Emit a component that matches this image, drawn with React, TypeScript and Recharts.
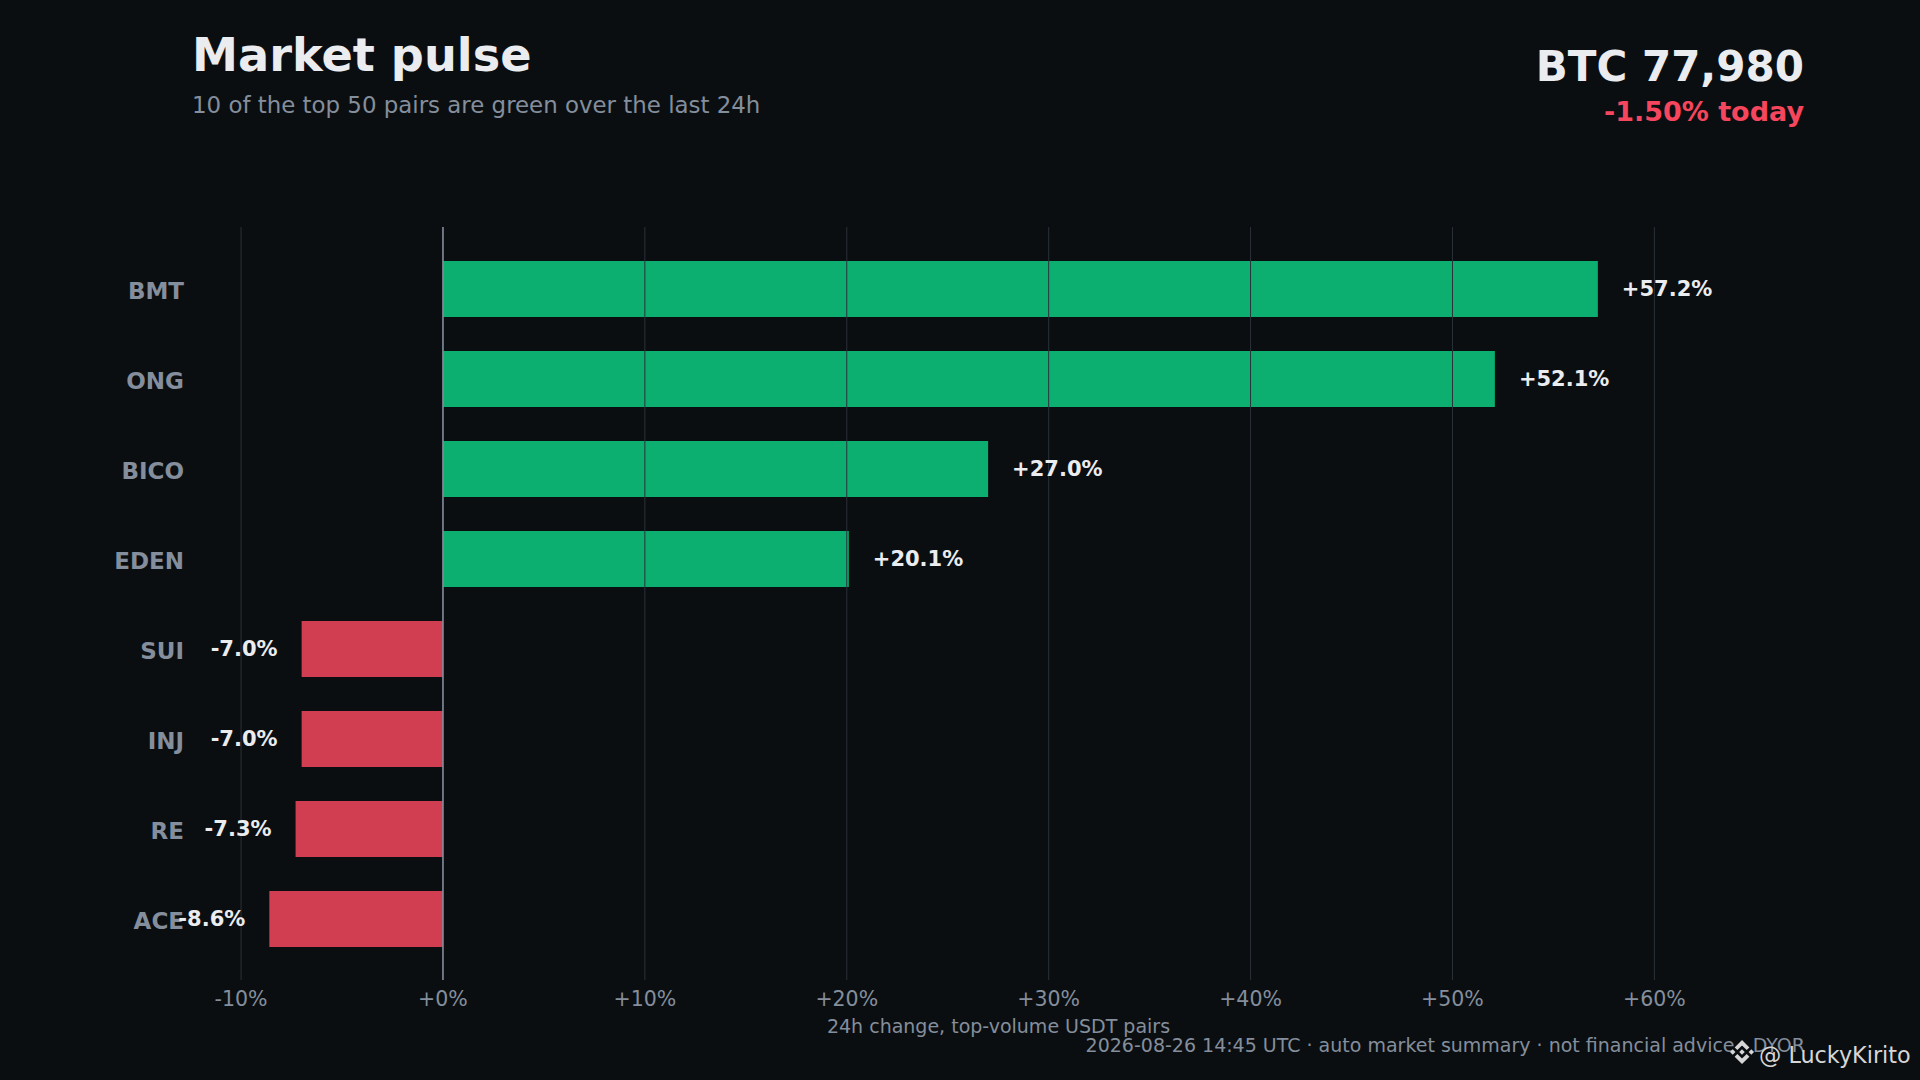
import { BarChart, Bar, Cell, XAxis, YAxis, ReferenceLine, LabelList } from 'recharts';

const symbols = ['BMT', 'ONG', 'BICO', 'EDEN', 'SUI', 'INJ', 'RE', 'ACE'];
const changes = [57.2, 52.1, 27.0, 20.1, -7.0, -7.0, -7.3, -8.6];
const xTicks = [-10, 0, 10, 20, 30, 40, 50, 60];

const GREEN = '#0ecb81';
const RED = '#f6465d';
const BG = '#0b0e11';
const TEXT = '#eaecef';
const MUTED = '#848e9c';
const FONT = '"DejaVu Sans", sans-serif';

const rows = symbols.map((symbol, i) => ({ symbol, change: changes[i] }));

const pct = (v: number) => `${v >= 0 ? '+' : ''}${v}%`;
const pct1 = (v: number) => `${v >= 0 ? '+' : ''}${v.toFixed(1)}%`;

function ValueLabel(props: any) {
    const { x, y, width, height, value } = props;
    const left = Math.min(x, x + width);
    const right = Math.max(x, x + width);
    const pos = value >= 0;
    return (
        <text
            x={pos ? right + 24 : left - 24}
            y={y + height / 2 + 6.5}
            textAnchor={pos ? 'start' : 'end'}
            fill={TEXT}
            fontSize={21}
            fontWeight="bold"
            fontFamily={FONT}
        >
            {pct1(value)}
        </text>
    );
}

function SymbolTick(props: any) {
    const { x, y, payload } = props;
    return (
        <text x={x} y={y + 9.5} textAnchor="end" fill={MUTED} fontSize={23} fontWeight="bold" fontFamily={FONT}>
            {payload.value}
        </text>
    );
}

export default function App() {
    return (
        <div style={{ position: 'absolute', left: 0, top: 0, width: 1920, height: 1080, background: BG, overflow: 'hidden' }}>
            <BarChart
                width={1920}
                height={1080}
                data={rows}
                layout="vertical"
                margin={{ top: 227, right: 115, bottom: 60, left: 92 }}
            >
                <XAxis
                    type="number"
                    domain={[-12.43, 67.46]}
                    allowDataOverflow
                    ticks={xTicks}
                    tickFormatter={pct}
                    axisLine={false}
                    tickLine={false}
                    tickSize={0}
                    tickMargin={11}
                    height={40}
                    tick={{ fill: MUTED, fontSize: 20.5, fontFamily: FONT }}
                />
                <YAxis
                    type="category"
                    dataKey="symbol"
                    width={100}
                    axisLine={false}
                    tickLine={false}
                    tickSize={0}
                    tickMargin={8}
                    padding={{ top: 17, bottom: 16 }}
                    tick={<SymbolTick />}
                    interval={0}
                />
                <Bar dataKey="change" barSize={56} isAnimationActive={false}>
                    {rows.map((r, i) => (
                        <Cell key={`cell-${i}`} fill={r.change >= 0 ? GREEN : RED} fillOpacity={0.85} />
                    ))}
                    <LabelList dataKey="change" content={<ValueLabel />} />
                </Bar>
                {xTicks.filter((t) => t !== 0).map((t) => (
                    <ReferenceLine key={`grid-${t}`} x={t} stroke="#2b3139" strokeWidth={1} zIndex={400} />
                ))}
                <ReferenceLine x={0} stroke={MUTED} strokeWidth={1.6} zIndex={400} />
            </BarChart>

            <svg width={1920} height={1080} style={{ position: 'absolute', left: 0, top: 0, pointerEvents: 'none' }}>
                <text x={192} y={71} fill={TEXT} fontSize={46.2} fontWeight="bold" fontFamily={FONT}>
                    Market pulse
                </text>
                <text x={192} y={113} fill={MUTED} fontSize={22.9} fontFamily={FONT}>
                    10 of the top 50 pairs are green over the last 24h
                </text>
                <text x={1804} y={81} textAnchor="end" fill={TEXT} fontSize={42} fontWeight="bold" fontFamily={FONT}>
                    BTC 77,980
                </text>
                <text x={1804} y={121} textAnchor="end" fill={RED} fontSize={27} fontWeight="bold" fontFamily={FONT}>
                    -1.50% today
                </text>
                <text x={998.5} y={1033} textAnchor="middle" fill={MUTED} fontSize={19} fontFamily={FONT}>
                    24h change, top-volume USDT pairs
                </text>
                <text x={1805} y={1052} textAnchor="end" fill={MUTED} fontSize={19} fontFamily={FONT}>
                    2026-08-26 14:45 UTC · auto market summary · not financial advice · DYOR
                </text>
                <g transform="translate(1730,1040) scale(0.19)" fill="#d6d6d6">
                    <path d="M38.73,53.2L63.3,28.62L87.89,53.22L102.19,38.92L63.3,0L24.42,38.88Z" />
                    <path d="M0,63.31L14.3,49L28.6,63.31L14.3,77.61Z" />
                    <path d="M38.73,73.41L63.3,98L87.89,73.4L102.19,87.69L63.3,126.61L24.42,87.73Z" />
                    <path d="M98,63.31L112.3,49.01L126.6,63.31L112.3,77.61Z" />
                    <path d="M77.83,63.3L63.3,48.76L48.77,63.29L63.28,77.79Z" />
                </g>
                <text x={1759} y={1063} fill="#d6d6d6" fontSize={22.3} fontFamily={FONT}>
                    @ LuckyKirito
                </text>
            </svg>
        </div>
    );
}
